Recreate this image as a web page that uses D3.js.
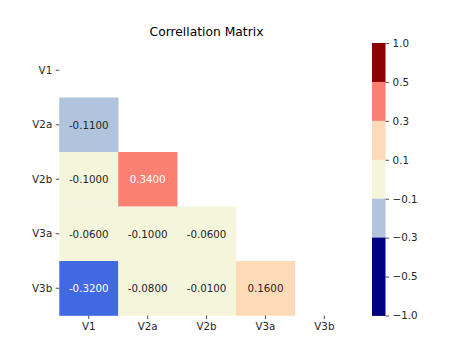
<!DOCTYPE html>
<html><head><meta charset="utf-8">
<script src="https://cdn.jsdelivr.net/npm/d3@7"></script>
<style>body{margin:0;background:#fff}svg{display:block}text{font-family:"DejaVu Sans",sans-serif}</style>
</head><body><svg id="c" width="474" height="355"></svg>
<script>
const variables = ["V1","V2a","V2b","V3a","V3b"];
// lower-triangle correlations: [row, col, value]
const rowIdx = [1,2,2,3,3,3,4,4,4,4];
const colIdx = [0,0,1,0,1,2,0,1,2,3];
const corrValues = [-0.11,-0.10,0.34,-0.06,-0.10,-0.06,-0.32,-0.08,-0.01,0.16];
const cbTickLabels = ["1.0","0.5","0.3","0.1","\u22120.1","\u22120.3","\u22120.5","\u22121.0"];
const cbColors = ["#8b0000","#fa8072","#ffdab9","#f5f5dc","#b0c4de","#000080","#000080"];
const cellThresholds = [-0.5,-0.3,-0.1,0.1,0.3,0.5];
const cellColors = ["#000080","#4169e1","#b0c4de","#f5f5dc","#ffdab9","#fa8072","#8b0000"];

const svg = d3.select("#c");
const ink = "#262626";
const x = d3.scaleBand().domain(variables).range([59.3,353.8]);
const y = d3.scaleBand().domain(variables).range([43,315.5]);
const color = d3.scaleThreshold().domain(cellThresholds).range(cellColors);

const cells = corrValues.map((v,i)=>({r:variables[rowIdx[i]], c:variables[colIdx[i]], v}));
svg.append("g").selectAll("rect").data(cells).join("rect")
  .attr("x",d=>x(d.c)).attr("y",d=>y(d.r))
  .attr("width",x.bandwidth()+0.3).attr("height",y.bandwidth()+0.3)
  .attr("fill",d=>color(d.v));
svg.append("g").selectAll("text").data(cells).join("text")
  .attr("x",d=>x(d.c)+x.bandwidth()/2).attr("y",d=>y(d.r)+y.bandwidth()/2)
  .attr("text-anchor","middle").attr("dominant-baseline","central")
  .attr("font-size","10.3px")
  .attr("fill",d=>(Math.abs(d.v)>0.3)?"#ffffff":ink)
  .text(d=>d.v.toFixed(4));

function styleAxis(g){
  g.select(".domain").remove();
  g.selectAll(".tick line").attr("stroke",ink).attr("stroke-width",0.8);
  g.selectAll(".tick text").attr("fill",ink).attr("font-size","10.3px").attr("font-family","DejaVu Sans, sans-serif");
}
svg.append("g").attr("transform","translate(0,315.5)")
  .call(d3.axisBottom(x).tickSize(3.6).tickPadding(3.5)).call(styleAxis);
svg.append("g").attr("transform","translate(59.3,0)")
  .call(d3.axisLeft(y).tickSize(3.6).tickPadding(3.5)).call(styleAxis);

svg.append("text").attr("x",206.5).attr("y",36).attr("text-anchor","middle")
  .attr("font-size","12.3px").attr("fill","#000").text("Correllation Matrix");

// colorbar
const cbX0 = 372, cbW = 13.5;
const cy = d3.scalePoint().domain(cbTickLabels).range([43,315.5]);
const segs = cbColors.map((col,i)=>({col, y0:cy(cbTickLabels[i]), y1:cy(cbTickLabels[i+1])}));
svg.append("g").selectAll("rect").data(segs).join("rect")
  .attr("x",cbX0).attr("y",d=>d.y0).attr("width",cbW).attr("height",d=>d.y1-d.y0+0.4)
  .attr("fill",d=>d.col);
svg.append("g").attr("transform",`translate(${cbX0+cbW},0)`)
  .call(d3.axisRight(cy).tickSize(3.6).tickPadding(3.5)).call(styleAxis);
</script></body></html>
